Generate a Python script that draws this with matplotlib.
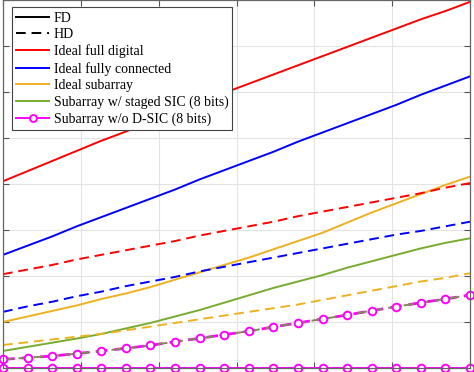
import numpy as np
import matplotlib.pyplot as plt

# x grid (20 simulated points) and rates per scheme
snr = np.linspace(0, 30, 20)

fd_full_digital = [20.3, 21.4, 22.5, 23.6, 24.7, 25.7, 26.8, 27.8, 28.9, 29.9,
                   30.9, 31.9, 32.9, 33.9, 34.9, 35.9, 36.9, 37.9, 38.8, 39.8]
fd_fully_conn = [12.3, 13.3, 14.3, 15.4, 16.4, 17.4, 18.4, 19.4, 20.5, 21.5,
                 22.5, 23.5, 24.6, 25.6, 26.6, 27.6, 28.6, 29.7, 30.7, 31.7]
fd_subarray = [5.0, 5.6, 6.2, 6.8, 7.5, 8.1, 8.8, 9.6, 10.4, 11.2,
               12.0, 12.9, 13.8, 14.7, 15.8, 16.9, 17.9, 18.9, 19.9, 20.8]
fd_staged = [1.85, 2.3, 2.75, 3.2, 3.7, 4.3, 4.9, 5.6, 6.3, 7.1,
             7.9, 8.7, 9.4, 10.1, 10.9, 11.6, 12.3, 13.0, 13.6, 14.1]
fd_no_dsic = [0.0] * 20

hd_full_digital = [10.2, 10.7, 11.2, 11.8, 12.3, 12.8, 13.3, 13.8, 14.4, 14.9,
                   15.4, 15.9, 16.5, 17.0, 17.5, 18.0, 18.5, 19.0, 19.6, 20.1]
hd_fully_conn = [6.1, 6.7, 7.2, 7.8, 8.3, 8.9, 9.4, 9.9, 10.5, 11.0,
                 11.5, 12.0, 12.5, 13.0, 13.5, 14.0, 14.5, 14.9, 15.4, 15.9]
hd_subarray = [2.5, 2.8, 3.1, 3.4, 3.7, 4.1, 4.5, 4.9, 5.3, 5.7,
               6.1, 6.5, 6.9, 7.4, 7.9, 8.4, 8.9, 9.4, 9.8, 10.3]
hd_staged = [0.94, 1.12, 1.3, 1.56, 1.85, 2.14, 2.46, 2.86, 3.23, 3.62,
             4.0, 4.46, 4.9, 5.33, 5.76, 6.23, 6.67, 7.1, 7.5, 7.94]
hd_no_dsic = hd_staged

RED = '#ff0000'
BLUE = '#0000ff'
YEL = '#edb120'
GRN = '#77ac30'
MAG = '#ff00ff'
LW = 1.4
DASH = (0, (5, 3))

fig = plt.figure(figsize=(4.74, 3.72), dpi=100)
ax = fig.add_axes([3/474, 4/372, 467/474, 368/372])

mk = dict(marker='o', markersize=5.5, markerfacecolor='white',
          markeredgecolor=MAG, markeredgewidth=1.4, clip_on=False)

# full duplex (solid)
ax.plot(snr, fd_full_digital, color=RED, lw=LW)
ax.plot(snr, fd_fully_conn, color=BLUE, lw=LW)
ax.plot(snr, fd_subarray, color=YEL, lw=LW)
ax.plot(snr, fd_staged, color=GRN, lw=LW)
ax.plot(snr, fd_no_dsic, color=MAG, lw=LW, **mk)

# half duplex (dashed)
ax.plot(snr, hd_full_digital, color=RED, lw=LW, ls=DASH)
ax.plot(snr, hd_fully_conn, color=BLUE, lw=LW, ls=DASH)
ax.plot(snr, hd_subarray, color=YEL, lw=LW, ls=DASH)
ax.plot(snr, hd_no_dsic, color=MAG, lw=LW + 0.6, ls=(0, (4.2, 2.5)))
ax.plot(snr, hd_staged, color='#7f8a55', lw=LW, ls=DASH)
ax.plot(snr, hd_no_dsic, ls='none', **mk)

ax.set_xlim(0, 30)
ax.set_ylim(0, 40)
ax.set_xticks(np.arange(0, 31, 5))
ax.set_yticks(np.arange(0, 41, 5))
ax.set_xticklabels([])
ax.set_yticklabels([])
ax.tick_params(direction='in', length=4, color='#555555',
               top=True, right=True)
ax.grid(True, color='#e3e3e3', lw=0.8)
ax.set_axisbelow(True)
for s in ax.spines.values():
    s.set_color('#666666')
    s.set_linewidth(0.9)

handles = [
    plt.Line2D([], [], color='black', lw=LW),
    plt.Line2D([], [], color='black', lw=LW, ls=DASH),
    plt.Line2D([], [], color=RED, lw=LW),
    plt.Line2D([], [], color=BLUE, lw=LW),
    plt.Line2D([], [], color=YEL, lw=LW),
    plt.Line2D([], [], color=GRN, lw=LW),
    plt.Line2D([], [], color=MAG, lw=LW, marker='o', markersize=5,
               markerfacecolor='white', markeredgecolor=MAG, markeredgewidth=1.4),
]
labels = ['FD', 'HD', 'Ideal full digital', 'Ideal fully connected',
          'Ideal subarray', 'Subarray w/ staged SIC (8 bits)',
          'Subarray w/o D-SIC (8 bits)']
leg = ax.legend(handles, labels, loc='upper left', bbox_to_anchor=(0.019, 0.98),
                prop={'family': 'Liberation Serif', 'size': 10},
                handlelength=2.4, handletextpad=0.3, labelspacing=0.25,
                borderpad=0.3, borderaxespad=0, fancybox=False, framealpha=1,
                edgecolor='#444444')
leg.get_frame().set_linewidth(0.8)

fig.savefig('out.png', dpi=100)
